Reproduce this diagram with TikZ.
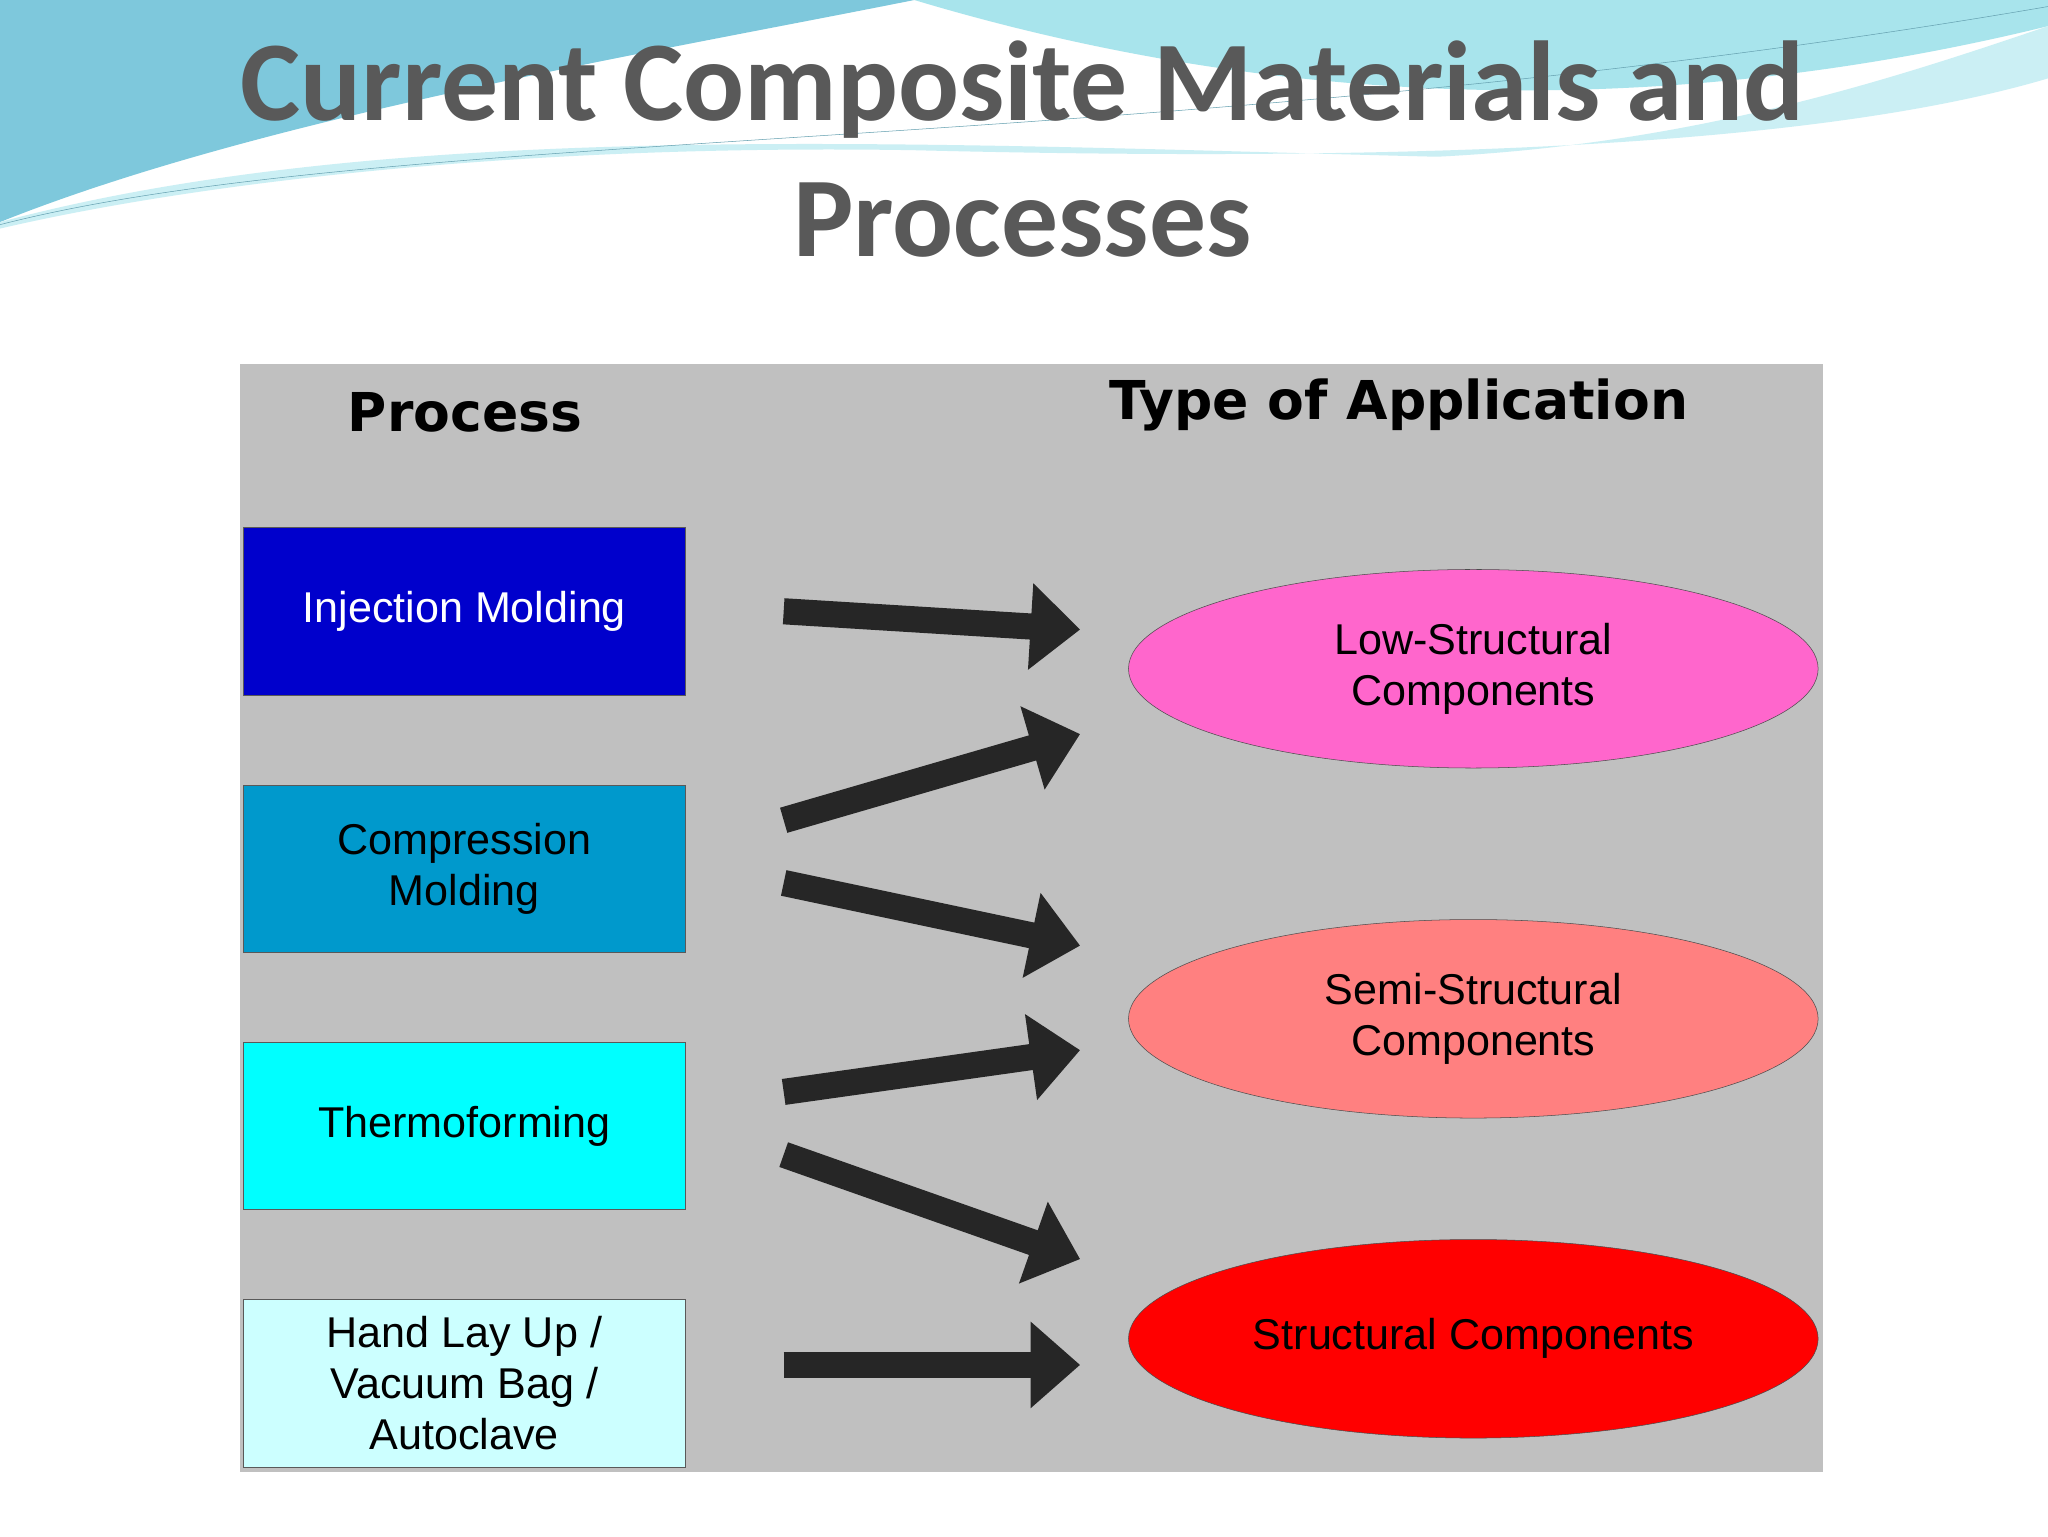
\documentclass[tikz,border=0pt]{standalone}
\usepackage{fontspec}
\setmainfont{Liberation Sans}
\newfontfamily\titlefont{Carlito}
\newfontfamily\widefont{DejaVu Sans}
\usetikzlibrary{arrows.meta,shapes.geometric}
\definecolor{panelgray}{HTML}{C0C0C0}
\definecolor{titlegray}{HTML}{595959}
\definecolor{seablue}{HTML}{7EC8DC}
\definecolor{seacyan}{HTML}{A8E4EC}
\tikzset{
	procbox/.style={draw=gray!70!black, minimum width=339pt, minimum height=128pt, align=center, font=\fontsize{33}{39}\selectfont},
	appell/.style={ellipse, draw=gray!60!black, minimum width=528pt, minimum height=152pt, align=center, font=\fontsize{33}{39}\selectfont},
	fatarrow/.style={line width=20pt, draw=black!85, -{Triangle[length=38pt,width=64pt]}},
	heading/.style={font=\widefont\fontsize{41}{48}\selectfont\bfseries}
}
\begin{document}
\begin{tikzpicture}[x=1pt,y=-1pt]
	\useasboundingbox (0,0) rectangle (1568,1176);
	\fill[white] (0,0) rectangle (1568,1176);
	
	% top swoosh
	\fill[seablue] (0,0) -- (700,0) .. controls (500,40) and (200,90) .. (0,170) -- cycle;
	\fill[seacyan] (700,0) .. controls (900,60) and (1200,110) .. (1568,20) -- (1568,0) -- cycle;
	\fill[seacyan!60] (0,170) .. controls (300,90) and (700,110) .. (1100,120) .. controls (1300,110) and (1450,60) .. (1568,20) -- (1568,60) .. controls (1400,110) and (1100,125) .. (700,115) .. controls (400,110) and (150,140) .. (0,175) -- cycle;
	\draw[seablue!80!black, thin] (0,172) .. controls (300,95) and (900,120) .. (1568,5);
	
	\node[font=\titlefont\fontsize{87}{104}\selectfont\bfseries, text=titlegray, align=center] (title) at (783,114) {Current Composite Materials and\\Processes};
	
	\fill[panelgray] (184,279) rectangle (1396,1127);
	\node[heading] (hproc) at (356,316) {Process};
	\node[heading] (happ) at (1071,310) {Type of Application};
	
	\node[procbox, fill={rgb,255:red,0;green,0;blue,204}, text=white] (inj) at (355.5,468) {Injection Molding};
	\node[procbox, fill={rgb,255:red,0;green,153;blue,204}] (comp) at (355.5,665) {Compression\\Molding};
	\node[procbox, fill={rgb,255:red,0;green,255;blue,255}] (thermo) at (355.5,862) {Thermoforming};
	\node[procbox, fill={rgb,255:red,204;green,255;blue,255}] (hand) at (355.5,1059) {Hand Lay Up /\\Vacuum Bag /\\Autoclave};
	
	\node[appell, fill={rgb,255:red,255;green,102;blue,204}] (low) at (1128,512) {Low-Structural\\Components};
	\node[appell, fill={rgb,255:red,255;green,128;blue,128}] (semi) at (1128,780) {Semi-Structural\\Components};
	\node[appell, fill={rgb,255:red,255;green,0;blue,0}] (struct) at (1128,1025) {Structural Components};
	
	% arrow ends
	\coordinate (a1) at (600,468); \coordinate (b1) at (827,482);
	\coordinate (a2) at (600,628); \coordinate (b2) at (827,562);
	\coordinate (a3) at (600,676); \coordinate (b3) at (827,724);
	\coordinate (a4) at (600,836); \coordinate (b4) at (827,804);
	\coordinate (a5) at (600,884); \coordinate (b5) at (827,964);
	\coordinate (a6) at (600,1045); \coordinate (b6) at (827,1045);
	\foreach \i in {1,...,6}
		\draw[fatarrow] (a\i) -- (b\i);
\end{tikzpicture}
\end{document}
